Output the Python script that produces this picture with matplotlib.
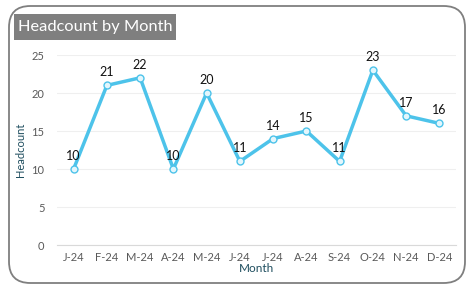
import matplotlib.pyplot as plt
from matplotlib.patches import FancyBboxPatch, Rectangle

months = ['J-24', 'F-24', 'M-24', 'A-24', 'M-24', 'J-24', 'J-24', 'A-24', 'S-24', 'O-24', 'N-24', 'D-24']
headcount = [10, 21, 22, 10, 20, 11, 14, 15, 11, 23, 17, 16]

plt.rcParams['font.family'] = ['Lato', 'DejaVu Sans']

W, H = 474, 289
fig = plt.figure(figsize=(W/100, H/100), dpi=100)
fig.patch.set_facecolor('white')

# rounded outer border
border = FancyBboxPatch((9/W, 6/H), 456/W, 277/H,
                        boxstyle='round,pad=0,rounding_size=0.045',
                        transform=fig.transFigure, facecolor='none',
                        edgecolor='#7f7f7f', linewidth=1.3, mutation_aspect=W/H, zorder=-1)
fig.patches.append(border)

# title box
fig.patches.append(Rectangle((14/W, 1-40/H), 162/W, 26/H, transform=fig.transFigure,
                             facecolor='#7f7f7f', edgecolor='none', zorder=-1))
fig.text(18/W, 1-27.5/H, 'Headcount by Month', fontsize=11.8, color='white', va='center', ha='left')

ax = fig.add_axes([57/W, 1-245/H, 399/W, 190/H])
ax.patch.set_alpha(0)
x = list(range(len(months)))
ax.plot(x, headcount, color='#4dc3ea', linewidth=2.5, marker='o', markersize=5,
        markerfacecolor='#e3f6fc', markeredgecolor='#4dc3ea', markeredgewidth=1, zorder=3)
for xi, v in zip(x, headcount):
    ax.annotate(str(v), (xi, v), xytext=(0, 5), textcoords='offset points',
                ha='center', va='bottom', fontsize=9, color='#111111')

ax.set_xlim(-0.5, len(months) - 0.5)
ax.set_ylim(0, 25)
ax.set_yticks([0, 5, 10, 15, 20, 25])
ax.set_xticks(x)
ax.set_xticklabels(months)
ax.grid(axis='y', color='#efefef', linewidth=0.8)
ax.set_axisbelow(True)
for s in ['top', 'right', 'left']:
    ax.spines[s].set_visible(False)
ax.spines['bottom'].set_color('#d9d9d9')
ax.tick_params(axis='y', length=0, labelsize=8, labelcolor='#595959', pad=9)
ax.tick_params(axis='x', length=0, labelsize=8, labelcolor='#595959', pad=5)
ax.set_ylabel('Headcount', fontsize=8, color='#1f4e5f', labelpad=4)
ax.set_xlabel('Month', fontsize=8.5, color='#1f4e5f', labelpad=0)

fig.savefig('out.png', dpi=100)
